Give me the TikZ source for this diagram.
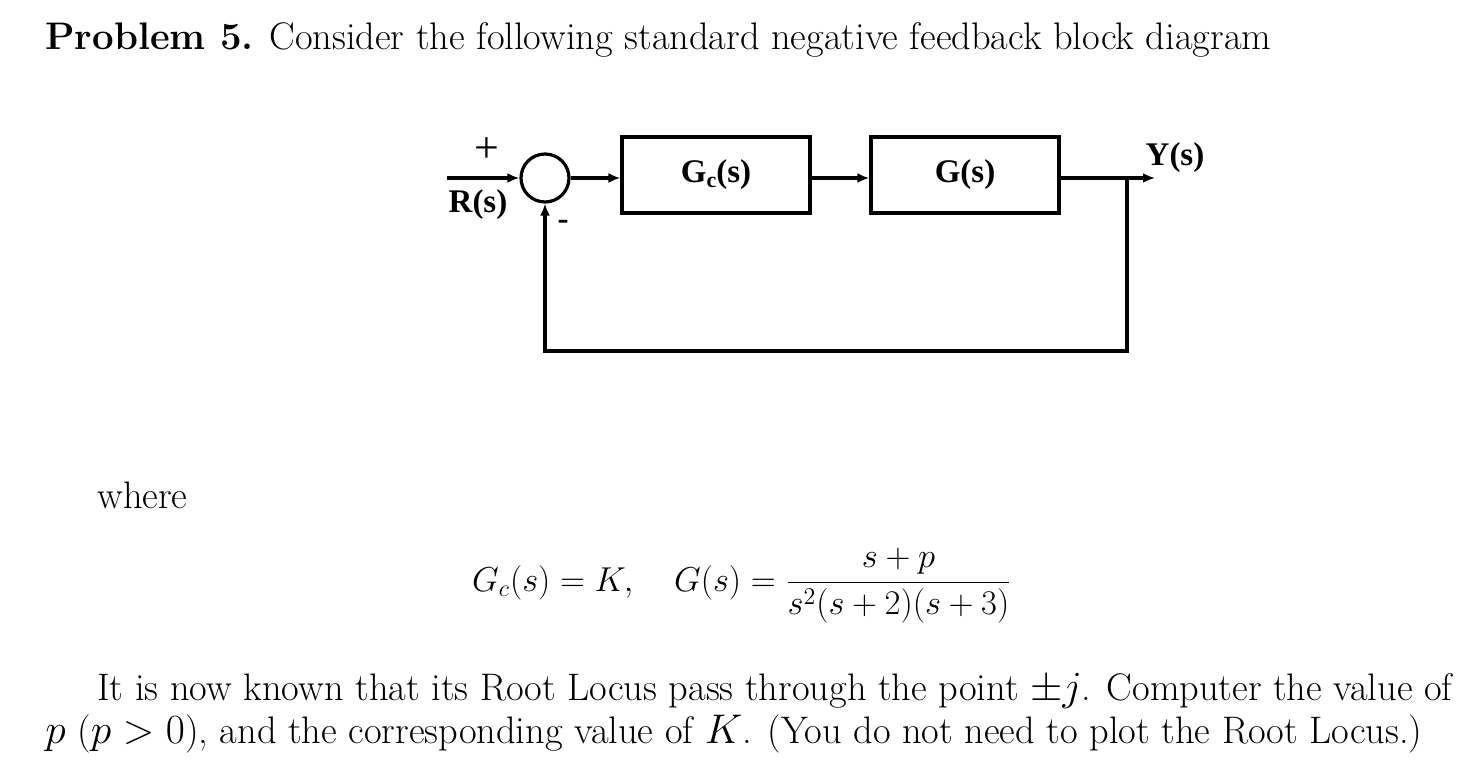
\documentclass[tikz,border=0pt]{standalone}
\usepackage{fontspec}
\usepackage{amsmath}
\newfontfamily\tms{Liberation Serif}
\usetikzlibrary{arrows.meta}
\begin{document}
\begin{tikzpicture}[x=0.5pt,y=-0.5pt,
  blk/.style={draw,line width=1.6pt,minimum width=94pt,minimum height=38pt,inner sep=0pt,font=\tms\bfseries\fontsize{16.5}{16}\selectfont},
  sig/.style={line width=1.6pt,-{Latex[length=6pt,width=5pt]}},
  lbl/.style={font=\tms\bfseries\fontsize{16.5}{16}\selectfont,inner sep=0pt},
  txt/.style={anchor=base west,inner sep=0pt,font=\fontsize{19.2}{23}\selectfont}]
\useasboundingbox (0,0) rectangle (1468,770);
\node[txt] (title) at (45,50) {\textbf{Problem 5.} Consider the following standard negative feedback block diagram};
\node[draw,circle,line width=1.6pt,minimum size=24pt,inner sep=0pt] (sum) at (545,178) {};
\node[blk] (gc) at (716,175) {G\raisebox{-0.3ex}{\fontsize{11}{11}\selectfont c}(s)};
\node[blk] (g) at (965,175) {G(s)};
\coordinate (in) at (447,178);
\coordinate (out) at (1155,178);
\coordinate (br) at (1127,178);
\coordinate (c1) at (1127,351);
\coordinate (c2) at (545,351);
\draw[sig] (in) -- (sum.west);
\draw[sig] (sum.east) -- (gc.west |- sum.east);
\draw[sig] (gc.east |- sum.east) -- (g.west |- sum.east);
\draw[sig] (g.east |- sum.east) -- (out);
\draw[sig] (br) -- (c1) -- (c2) -- (sum.south);
\node[lbl,font=\tms\fontsize{22}{22}\selectfont] (plus) at (487,150) {+};
\node[lbl] (rs) at (478,205) {R(s)};
\node[lbl] (minus) at (563,225) {-};
\node[lbl] (ys) at (1175,158) {Y(s)};
\node[txt] (where) at (97,508) {where};
\node[inner sep=0pt,font=\fontsize{17.5}{21}\selectfont] (eq) at (742,586) {$G_c(s)=K,\quad G(s)=\dfrac{s+p}{s^2(s+2)(s+3)}$};
\node[txt] (l1) at (97,700) {It is now known that its Root Locus pass through the point $\pm j$. Computer the value of};
\node[txt] (l2) at (45,743) {$p$ ($p>0$), and the corresponding value of $K$. (You do not need to plot the Root Locus.)};
\end{tikzpicture}
\end{document}
